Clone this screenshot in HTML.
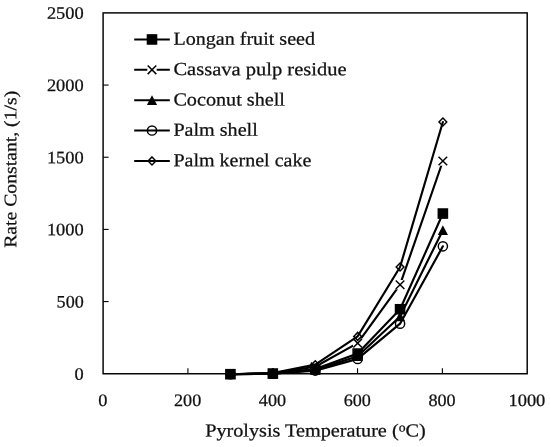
<!DOCTYPE html><html><head><meta charset="utf-8"><title>Rate Constant vs Pyrolysis Temperature</title>
<style>html,body{margin:0;padding:0;background:#fff}svg{display:block}text{font-family:"Liberation Serif",serif;fill:#111;stroke:#111;stroke-width:0.25px}</style></head><body>
<svg width="550" height="447" viewBox="0 0 550 447">
<rect width="550" height="447" fill="#fff"/>
<rect x="103.1" y="12.9" width="424.10" height="360.85" fill="none" stroke="#000" stroke-width="1.45"/>
<line x1="187.92" y1="373.75" x2="187.92" y2="368.25" stroke="#000" stroke-width="1.1"/>
<line x1="272.74" y1="373.75" x2="272.74" y2="368.25" stroke="#000" stroke-width="1.1"/>
<line x1="357.56" y1="373.75" x2="357.56" y2="368.25" stroke="#000" stroke-width="1.1"/>
<line x1="442.38" y1="373.75" x2="442.38" y2="368.25" stroke="#000" stroke-width="1.1"/>
<line x1="103.1" y1="301.58" x2="108.6" y2="301.58" stroke="#000" stroke-width="1.1"/>
<line x1="103.1" y1="229.41" x2="108.6" y2="229.41" stroke="#000" stroke-width="1.1"/>
<line x1="103.1" y1="157.24" x2="108.6" y2="157.24" stroke="#000" stroke-width="1.1"/>
<line x1="103.1" y1="85.07" x2="108.6" y2="85.07" stroke="#000" stroke-width="1.1"/>
<text transform="rotate(0.03 74.60 379.95)" x="74.60" y="379.70" font-size="17.4" textLength="9.2" lengthAdjust="spacingAndGlyphs">0</text>
<text transform="rotate(0.03 56.60 307.78)" x="56.60" y="307.53" font-size="17.4" textLength="27.2" lengthAdjust="spacingAndGlyphs">500</text>
<text transform="rotate(0.03 46.90 235.61)" x="46.90" y="235.36" font-size="17.4" textLength="36.9" lengthAdjust="spacingAndGlyphs">1000</text>
<text transform="rotate(0.03 46.90 163.44)" x="46.90" y="163.19" font-size="17.4" textLength="36.9" lengthAdjust="spacingAndGlyphs">1500</text>
<text transform="rotate(0.03 46.90 91.27)" x="46.90" y="91.02" font-size="17.4" textLength="36.9" lengthAdjust="spacingAndGlyphs">2000</text>
<text transform="rotate(0.03 46.90 19.10)" x="46.90" y="18.85" font-size="17.4" textLength="36.9" lengthAdjust="spacingAndGlyphs">2500</text>
<text transform="rotate(0.03 98.20 406)" x="98.20" y="406.1" font-size="17.4" textLength="9.2" lengthAdjust="spacingAndGlyphs">0</text>
<text transform="rotate(0.03 174.02 406)" x="174.02" y="406.1" font-size="17.4" textLength="27.2" lengthAdjust="spacingAndGlyphs">200</text>
<text transform="rotate(0.03 258.84 406)" x="258.84" y="406.1" font-size="17.4" textLength="27.2" lengthAdjust="spacingAndGlyphs">400</text>
<text transform="rotate(0.03 343.66 406)" x="343.66" y="406.1" font-size="17.4" textLength="27.2" lengthAdjust="spacingAndGlyphs">600</text>
<text transform="rotate(0.03 428.48 406)" x="428.48" y="406.1" font-size="17.4" textLength="27.2" lengthAdjust="spacingAndGlyphs">800</text>
<text transform="rotate(0.03 508.45 406)" x="508.45" y="406.1" font-size="17.4" textLength="36.9" lengthAdjust="spacingAndGlyphs">1000</text>
<text transform="rotate(0.03 205 436)" x="205.2" y="436.5" font-size="18.4" textLength="220.5" lengthAdjust="spacingAndGlyphs">Pyrolysis Temperature (<tspan font-size="12.5" dy="-5.2">o</tspan><tspan dy="5.2">C)</tspan></text>
<text transform="translate(16.3 247.8) rotate(-89.97)" font-size="17.7" textLength="157" lengthAdjust="spacingAndGlyphs">Rate Constant, (1/s)</text>
<polyline points="230.43,374.20 272.84,373.19 315.25,366.69 357.66,343.17 400.07,284.71 442.88,161.01" fill="none" stroke="#000" stroke-width="2.15" stroke-linejoin="round" stroke-linecap="round"/>
<rect x="225.73" y="369.50" width="9.40" height="9.40" fill="#fff"/><path d="M226.13 369.90L234.73 378.50M226.13 378.50L234.73 369.90" stroke="#000" stroke-width="1.45" fill="none"/>
<rect x="268.14" y="368.49" width="9.40" height="9.40" fill="#fff"/><path d="M268.54 368.89L277.14 377.49M268.54 377.49L277.14 368.89" stroke="#000" stroke-width="1.45" fill="none"/>
<rect x="310.55" y="361.99" width="9.40" height="9.40" fill="#fff"/><path d="M310.95 362.39L319.55 370.99M310.95 370.99L319.55 362.39" stroke="#000" stroke-width="1.45" fill="none"/>
<rect x="352.96" y="338.47" width="9.40" height="9.40" fill="#fff"/><path d="M353.36 338.87L361.96 347.47M353.36 347.47L361.96 338.87" stroke="#000" stroke-width="1.45" fill="none"/>
<rect x="395.37" y="280.01" width="9.40" height="9.40" fill="#fff"/><path d="M395.77 280.41L404.37 289.01M395.77 289.01L404.37 280.41" stroke="#000" stroke-width="1.45" fill="none"/>
<rect x="438.18" y="156.31" width="9.40" height="9.40" fill="#fff"/><path d="M438.58 156.71L447.18 165.31M438.58 165.31L447.18 156.71" stroke="#000" stroke-width="1.45" fill="none"/>
<polyline points="230.43,374.20 272.84,373.55 315.25,369.00 357.66,353.56 400.07,309.25 442.88,213.55" fill="none" stroke="#000" stroke-width="2.15" stroke-linejoin="round" stroke-linecap="round"/>
<rect x="225.13" y="368.90" width="10.6" height="10.6" fill="#000"/>
<rect x="267.54" y="368.25" width="10.6" height="10.6" fill="#000"/>
<rect x="309.95" y="363.70" width="10.6" height="10.6" fill="#000"/>
<rect x="352.36" y="348.26" width="10.6" height="10.6" fill="#000"/>
<rect x="394.77" y="303.95" width="10.6" height="10.6" fill="#000"/>
<rect x="437.58" y="208.25" width="10.6" height="10.6" fill="#000"/>
<polyline points="230.43,374.20 272.84,373.62 315.25,369.87 357.66,356.16 400.07,316.46 442.88,230.15" fill="none" stroke="#000" stroke-width="2.15" stroke-linejoin="round" stroke-linecap="round"/>
<path d="M230.43 369.30L235.53 379.10L225.33 379.10Z" fill="#000"/>
<path d="M272.84 368.72L277.94 378.52L267.74 378.52Z" fill="#000"/>
<path d="M315.25 364.97L320.35 374.77L310.15 374.77Z" fill="#000"/>
<path d="M357.66 351.26L362.76 361.06L352.56 361.06Z" fill="#000"/>
<path d="M400.07 311.56L405.17 321.36L394.97 321.36Z" fill="#000"/>
<path d="M442.88 225.25L447.98 235.05L437.78 235.05Z" fill="#000"/>
<polyline points="230.43,374.20 272.84,373.77 315.25,370.59 357.66,358.90 400.07,323.68 442.88,246.31" fill="none" stroke="#000" stroke-width="2.15" stroke-linejoin="round" stroke-linecap="round"/>
<circle cx="230.43" cy="374.20" r="4.6" stroke="#000" stroke-width="1.45" fill="none"/>
<circle cx="272.84" cy="373.77" r="4.6" stroke="#000" stroke-width="1.45" fill="none"/>
<circle cx="315.25" cy="370.59" r="4.6" stroke="#000" stroke-width="1.45" fill="none"/>
<circle cx="357.66" cy="358.90" r="4.6" stroke="#000" stroke-width="1.45" fill="none"/>
<circle cx="400.07" cy="323.68" r="4.6" stroke="#000" stroke-width="1.45" fill="none"/>
<circle cx="442.88" cy="246.31" r="4.6" stroke="#000" stroke-width="1.45" fill="none"/>
<polyline points="230.43,374.20 272.84,373.05 315.25,364.67 357.66,336.38 400.07,266.96 442.88,122.04" fill="none" stroke="#000" stroke-width="2.15" stroke-linejoin="round" stroke-linecap="round"/>
<path d="M230.43 370.20L234.33 374.20L230.43 378.20L226.53 374.20Z" stroke="#000" stroke-width="1.45" fill="none"/>
<path d="M272.84 369.05L276.74 373.05L272.84 377.05L268.94 373.05Z" stroke="#000" stroke-width="1.45" fill="none"/>
<path d="M315.25 360.67L319.15 364.67L315.25 368.67L311.35 364.67Z" stroke="#000" stroke-width="1.45" fill="none"/>
<path d="M357.66 332.38L361.56 336.38L357.66 340.38L353.76 336.38Z" stroke="#000" stroke-width="1.45" fill="none"/>
<path d="M400.07 262.96L403.97 266.96L400.07 270.96L396.17 266.96Z" stroke="#000" stroke-width="1.45" fill="none"/>
<path d="M442.88 118.04L446.78 122.04L442.88 126.04L438.98 122.04Z" stroke="#000" stroke-width="1.45" fill="none"/>
<line x1="134.2" y1="39.46" x2="169.8" y2="39.46" stroke="#000" stroke-width="2"/>
<rect x="146.70" y="34.16" width="10.6" height="10.6" fill="#000"/>
<text transform="rotate(0.03 173 44.46)" x="173.4" y="44.76" font-size="18.4" textLength="141.6" lengthAdjust="spacingAndGlyphs">Longan fruit seed</text>
<line x1="134.2" y1="69.82" x2="169.8" y2="69.82" stroke="#000" stroke-width="2"/>
<rect x="147.30" y="65.12" width="9.40" height="9.40" fill="#fff"/><path d="M147.70 65.52L156.30 74.12M147.70 74.12L156.30 65.52" stroke="#000" stroke-width="1.45" fill="none"/>
<text transform="rotate(0.03 173 74.82)" x="173.4" y="75.12" font-size="18.4" textLength="173.2" lengthAdjust="spacingAndGlyphs">Cassava pulp residue</text>
<line x1="134.2" y1="100.18" x2="169.8" y2="100.18" stroke="#000" stroke-width="2"/>
<path d="M152.00 95.28L157.10 105.08L146.90 105.08Z" fill="#000"/>
<text transform="rotate(0.03 173 105.18)" x="173.4" y="105.48" font-size="18.4" textLength="111.6" lengthAdjust="spacingAndGlyphs">Coconut shell</text>
<line x1="134.2" y1="130.54" x2="169.8" y2="130.54" stroke="#000" stroke-width="2"/>
<circle cx="152.00" cy="130.54" r="4.6" stroke="#000" stroke-width="1.45" fill="none"/>
<text transform="rotate(0.03 173 135.54)" x="173.4" y="135.84" font-size="18.4" textLength="84.4" lengthAdjust="spacingAndGlyphs">Palm shell</text>
<line x1="134.2" y1="160.90" x2="169.8" y2="160.90" stroke="#000" stroke-width="2"/>
<path d="M152.00 156.90L155.90 160.90L152.00 164.90L148.10 160.90Z" stroke="#000" stroke-width="1.45" fill="none"/>
<text transform="rotate(0.03 173 165.90)" x="173.4" y="166.20" font-size="18.4" textLength="138" lengthAdjust="spacingAndGlyphs">Palm kernel cake</text>
</svg></body></html>
